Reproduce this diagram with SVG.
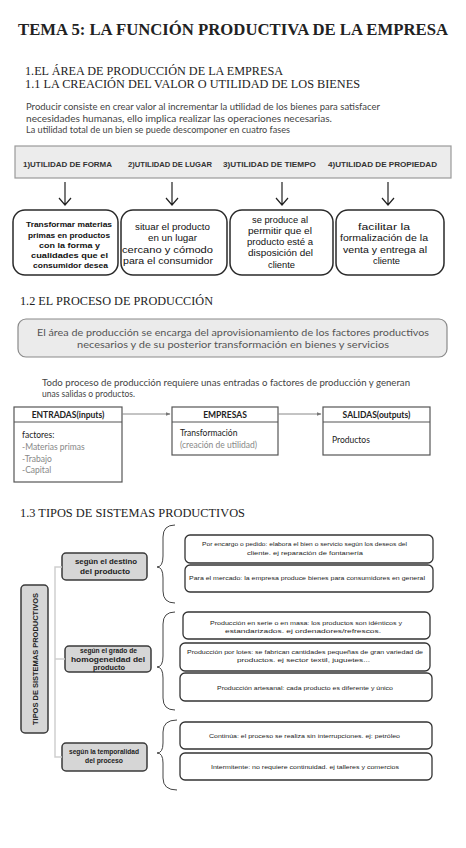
<svg xmlns="http://www.w3.org/2000/svg" width="466" height="848" viewBox="0 0 466 848">
<defs>
<marker id="tri" viewBox="0 0 10 10" refX="9" refY="5" markerWidth="5" markerHeight="5" orient="auto"><path d="M0,1 L10,5 L0,9 z" fill="#777"/></marker>
<style>
.serif{font-family:"Liberation Serif","DejaVu Serif",serif;fill:#222}
.sans{font-family:Lato,"Liberation Sans",sans-serif}
.p{font-size:8.5px;fill:#444}
.lab{font-size:7px;font-weight:bold;fill:#333;font-family:"Liberation Sans",Arial,sans-serif}
.ub{fill:#fff;stroke:#2a2a2a;stroke-width:1.5}
.ut{font-family:"Liberation Sans",Arial,sans-serif;font-size:8.2px;fill:#111;text-anchor:middle}
.ub1{font-size:7.8px;font-weight:bold}
.fb{fill:#fff;stroke:#555;stroke-width:1.2}
.ft{font-family:Lato,"Liberation Sans",sans-serif;font-size:8.5px;fill:#222}
.g{fill:#888}
.lb{fill:#d6d6d6;stroke:#3a3a3a;stroke-width:1.5}
.lt{font-family:"Liberation Sans",Arial,sans-serif;font-size:6.6px;font-weight:bold;fill:#222;text-anchor:middle}
.rb{fill:#fff;stroke:#333;stroke-width:1.3}
.rt{font-family:"Liberation Sans",Arial,sans-serif;font-size:5.8px;fill:#222;text-anchor:middle}
.br{fill:none;stroke:#444;stroke-width:1}
.arr{stroke:#222;stroke-width:1.2;fill:none}
</style>
</defs>

<g id="title">
<text class="serif" x="18" y="35" font-size="17" font-weight="bold" textLength="430" lengthAdjust="spacingAndGlyphs">TEMA 5: LA FUNCIÓN PRODUCTIVA DE LA EMPRESA</text>
<text class="serif" x="25" y="75" font-size="12" textLength="258" lengthAdjust="spacingAndGlyphs">1.EL ÁREA DE PRODUCCIÓN DE LA EMPRESA</text>
<text class="serif" x="25" y="88" font-size="12" textLength="335" lengthAdjust="spacingAndGlyphs">1.1 LA CREACIÓN  DEL VALOR O UTILIDAD DE LOS BIENES</text>
<text class="sans p" x="26" y="110" textLength="354" lengthAdjust="spacingAndGlyphs">Producir consiste en crear valor al incrementar la utilidad de los bienes para satisfacer</text>
<text class="sans p" x="26" y="122" textLength="306" lengthAdjust="spacingAndGlyphs">necesidades humanas, ello implica realizar las operaciones necesarias.</text>
<text class="sans p" x="26" y="133" textLength="264" lengthAdjust="spacingAndGlyphs">La utilidad total de un bien se puede descomponer en cuatro fases</text>
</g>

<g id="fases">
<rect x="15" y="146" width="436" height="32" fill="#ececec" stroke="#9a9a9a" stroke-width="1.2"/>
<text class="lab" x="23" y="167" textLength="89" lengthAdjust="spacingAndGlyphs">1)UTILIDAD DE FORMA</text>
<text class="lab" x="128" y="167" textLength="84" lengthAdjust="spacingAndGlyphs">2)UTILIDAD DE LUGAR</text>
<text class="lab" x="223" y="167" textLength="93" lengthAdjust="spacingAndGlyphs">3)UTILIDAD DE TIEMPO</text>
<text class="lab" x="328" y="167" textLength="109" lengthAdjust="spacingAndGlyphs">4)UTILIDAD DE PROPIEDAD</text>
</g>

<g id="u1">
<rect class="ub" x="13" y="210" width="105" height="65" rx="12"/>
<text class="ut ub1" x="69" y="227" textLength="86" lengthAdjust="spacingAndGlyphs">Transformar materias</text>
<text class="ut ub1" x="69" y="238" textLength="82" lengthAdjust="spacingAndGlyphs">primas en productos</text>
<text class="ut ub1" x="69.5" y="248" textLength="61" lengthAdjust="spacingAndGlyphs">con la forma y</text>
<text class="ut ub1" x="69.5" y="258" textLength="77" lengthAdjust="spacingAndGlyphs">cualidades que el</text>
<text class="ut ub1" x="70.5" y="268" textLength="75" lengthAdjust="spacingAndGlyphs">consumidor desea</text>
</g>
<g id="u2">
<rect class="ub" x="121" y="210" width="106" height="65" rx="12"/>
<text class="ut" x="172.5" y="230" textLength="75" lengthAdjust="spacingAndGlyphs">situar el producto</text>
<text class="ut" x="172.5" y="241" textLength="49" lengthAdjust="spacingAndGlyphs">en un lugar</text>
<text class="ut" x="167.5" y="253" textLength="91" lengthAdjust="spacingAndGlyphs">cercano y cómodo</text>
<text class="ut" x="168" y="264" textLength="90" lengthAdjust="spacingAndGlyphs">para el consumidor</text>
</g>
<g id="u3">
<rect class="ub" x="230" y="210" width="103" height="65" rx="12"/>
<text class="ut" x="280" y="223" textLength="56" lengthAdjust="spacingAndGlyphs">se produce al</text>
<text class="ut" x="280" y="234" textLength="64" lengthAdjust="spacingAndGlyphs">permitir que el</text>
<text class="ut" x="280" y="245" textLength="66" lengthAdjust="spacingAndGlyphs">producto esté a</text>
<text class="ut" x="280.5" y="256" textLength="65" lengthAdjust="spacingAndGlyphs">disposición del</text>
<text class="ut" x="281.5" y="268" textLength="27" lengthAdjust="spacingAndGlyphs">cliente</text>
</g>
<g id="u4">
<rect class="ub" x="336" y="210" width="108" height="65" rx="12"/>
<text class="ut" x="384" y="230" textLength="52" lengthAdjust="spacingAndGlyphs">facilitar la</text>
<text class="ut" x="384" y="241" textLength="88" lengthAdjust="spacingAndGlyphs">formalización de la</text>
<text class="ut" x="385" y="253" textLength="84" lengthAdjust="spacingAndGlyphs">venta y entrega al</text>
<text class="ut" x="386.5" y="264" textLength="27" lengthAdjust="spacingAndGlyphs">cliente</text>
</g>

<g id="section12">
<text class="serif" x="20" y="305" font-size="12" textLength="193" lengthAdjust="spacingAndGlyphs">1.2 EL PROCESO DE PRODUCCIÓN</text>
<rect x="18" y="319" width="429" height="38" rx="8" fill="#ebebeb" stroke="#8a8a8a" stroke-width="1.2"/>
<text class="sans" x="233" y="336" font-size="9.3" fill="#555" text-anchor="middle" textLength="392" lengthAdjust="spacingAndGlyphs">El área de producción se encarga del aprovisionamiento de los factores productivos</text>
<text class="sans" x="233" y="348" font-size="9.3" fill="#555" text-anchor="middle" textLength="312" lengthAdjust="spacingAndGlyphs">necesarios y de su posterior transformación en bienes y servicios</text>
<text class="sans p" x="42" y="386" font-size="8.3" textLength="368" lengthAdjust="spacingAndGlyphs">Todo proceso de producción requiere unas entradas o factores de producción y generan</text>
<text class="sans p" x="42" y="397" font-size="8.3">unas salidas o productos.</text>
</g>

<g id="entradas">
<rect class="fb" x="14" y="407" width="108" height="75"/>
<line x1="14" y1="422" x2="122" y2="422" stroke="#555" stroke-width="1.2"/>
<text class="ft" x="68" y="418" text-anchor="middle" font-weight="bold">ENTRADAS(inputs)</text>
<text class="ft" x="22" y="438">factores:</text>
<text class="ft g" x="22" y="450">-Materias primas</text>
<text class="ft g" x="22" y="462">-Trabajo</text>
<text class="ft g" x="22" y="473">-Capital</text>
</g>
<g id="empresas">
<rect class="fb" x="172" y="407" width="106" height="48"/>
<line x1="172" y1="422" x2="278" y2="422" stroke="#555" stroke-width="1.2"/>
<text class="ft" x="225" y="418" text-anchor="middle" font-weight="bold">EMPRESAS</text>
<text class="ft" x="180" y="436">Transformación</text>
<text class="ft g" x="180" y="448">(creación de utilidad)</text>
</g>
<g id="salidas">
<rect class="fb" x="323" y="407" width="107" height="48"/>
<line x1="323" y1="422" x2="430" y2="422" stroke="#555" stroke-width="1.2"/>
<text class="ft" x="376.5" y="418" text-anchor="middle" font-weight="bold">SALIDAS(outputs)</text>
<text class="ft" x="332" y="443">Productos</text>
</g>

<g id="section13">
<text class="serif" x="20" y="517" font-size="12" textLength="225" lengthAdjust="spacingAndGlyphs">1.3 TIPOS DE SISTEMAS PRODUCTIVOS</text>
</g>

<g id="tipos">
<rect class="lb" x="21" y="585" width="27" height="148" rx="4"/>
<text class="lt" font-size="7" transform="translate(37.5,659) rotate(-90)" x="0" y="0" textLength="132" lengthAdjust="spacingAndGlyphs">TIPOS DE SISTEMAS PRODUCTIVOS</text>
</g>
<g id="destino">
<rect class="lb" x="62" y="553" width="85" height="27" rx="4"/>
<text class="lt" x="106" y="564" textLength="62" lengthAdjust="spacingAndGlyphs">según el destino</text>
<text class="lt" x="105" y="574" textLength="50" lengthAdjust="spacingAndGlyphs">del producto</text>
</g>
<g id="grado">
<rect class="lb" x="65" y="646" width="86" height="26" rx="4"/>
<text class="lt" x="108.5" y="653" textLength="57" lengthAdjust="spacingAndGlyphs">según el grado de</text>
<text class="lt" x="108" y="662" textLength="74" lengthAdjust="spacingAndGlyphs">homogeneidad del</text>
<text class="lt" x="109" y="670" textLength="32" lengthAdjust="spacingAndGlyphs">producto</text>
</g>
<g id="temporalidad">
<rect class="lb" x="62" y="743" width="85" height="28" rx="4"/>
<text class="lt" x="104" y="754" textLength="70" lengthAdjust="spacingAndGlyphs">según la temporalidad</text>
<text class="lt" x="104" y="763" textLength="38" lengthAdjust="spacingAndGlyphs">del proceso</text>
</g>

<g id="r1">
<rect class="rb" x="185" y="535" width="248" height="28" rx="5"/>
<text class="rt" x="304.5" y="546" textLength="205" lengthAdjust="spacingAndGlyphs">Por encargo o pedido: elabora el bien o servicio según los deseos del</text>
<text class="rt" x="305" y="554.5" textLength="116" lengthAdjust="spacingAndGlyphs">cliente. ej reparación de fontanería</text>
</g>
<g id="r2">
<rect class="rb" x="185" y="565" width="248" height="27" rx="5"/>
<text class="rt" x="307" y="580" textLength="236" lengthAdjust="spacingAndGlyphs">Para el mercado: la empresa produce bienes para consumidores en general</text>
</g>
<g id="r3">
<rect class="rb" x="183" y="612" width="247" height="27" rx="5"/>
<text class="rt" x="306" y="625" textLength="192" lengthAdjust="spacingAndGlyphs">Producción en serie o en masa: los productos son idénticos y</text>
<text class="rt" x="303" y="633" textLength="156" lengthAdjust="spacingAndGlyphs">estandarizados. ej ordenadores/refrescos.</text>
</g>
<g id="r4">
<rect class="rb" x="180" y="643" width="250" height="28" rx="5"/>
<text class="rt" x="305" y="654" textLength="236" lengthAdjust="spacingAndGlyphs">Producción por lotes: se fabrican cantidades pequeñas de gran variedad de</text>
<text class="rt" x="303.5" y="662" textLength="133" lengthAdjust="spacingAndGlyphs">productos. ej sector textil, juguetes...</text>
</g>
<g id="r5">
<rect class="rb" x="180" y="673" width="252" height="28" rx="5"/>
<text class="rt" x="305" y="690" textLength="176" lengthAdjust="spacingAndGlyphs">Producción artesanal: cada producto es diferente y único</text>
</g>
<g id="r6">
<rect class="rb" x="180" y="722" width="252" height="27" rx="5"/>
<text class="rt" x="304.5" y="738" textLength="191" lengthAdjust="spacingAndGlyphs">Continúa: el proceso se realiza sin interrupciones. ej: petróleo</text>
</g>
<g id="r7">
<rect class="rb" x="180" y="753" width="252" height="27" rx="5"/>
<text class="rt" x="305" y="769" textLength="188" lengthAdjust="spacingAndGlyphs">Intermitente: no requiere continuidad. ej talleres y comercios</text>
</g>

<g id="connectors">
<path class="arr" d="M65,182 V205 M59,198 L65,205 L71,198"/>
<path class="arr" d="M172,182 V205 M166,198 L172,205 L178,198"/>
<path class="arr" d="M282,182 V205 M276,198 L282,205 L288,198"/>
<path class="arr" d="M388,182 V205 M382,198 L388,205 L394,198"/>
<line x1="122" y1="414" x2="170" y2="414" stroke="#888" stroke-width="1" marker-end="url(#tri)"/>
<line x1="278" y1="414" x2="321" y2="414" stroke="#888" stroke-width="1" marker-end="url(#tri)"/>
<path d="M62,567 H55 V757 H62 M55,659 H65" fill="none" stroke="#cfcfcf" stroke-width="1.5"/>
<path class="br" d="M175,525 Q163,525 163,537 V556 Q163,567 157,567 Q163,567 163,578 V591 Q163,603 175,603"/>
<path class="br" d="M175,612 Q163,612 163,624 V656 Q163,667 157,667 Q163,667 163,678 V698 Q163,710 175,710"/>
<path class="br" d="M177,720 Q163,720 163,732 V743 Q163,753 157,753 Q163,753 163,763 V778 Q163,790 177,790"/>
</g>
</svg>
